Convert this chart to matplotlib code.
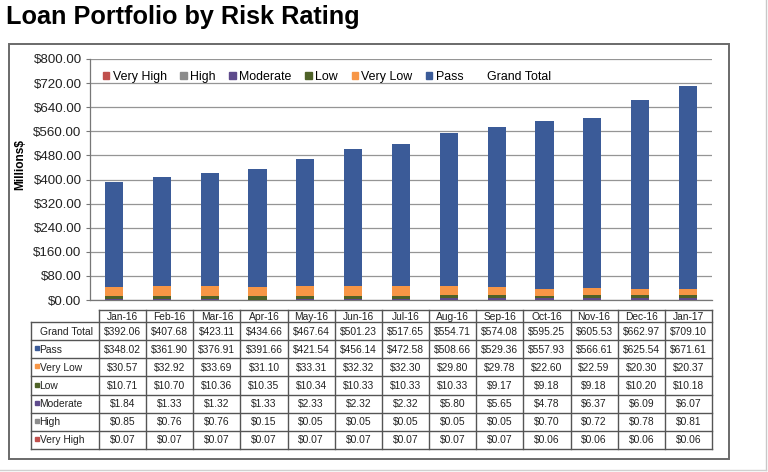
import matplotlib
matplotlib.use("Agg")
import matplotlib.pyplot as plt
from matplotlib.patches import Patch, Rectangle
import numpy as np

plt.rcParams['font.family'] = ['Liberation Sans', 'DejaVu Sans']

months = ["Jan-16", "Feb-16", "Mar-16", "Apr-16", "May-16", "Jun-16", "Jul-16",
          "Aug-16", "Sep-16", "Oct-16", "Nov-16", "Dec-16", "Jan-17"]
grand_total = [392.06, 407.68, 423.11, 434.66, 467.64, 501.23, 517.65,
               554.71, 574.08, 595.25, 605.53, 662.97, 709.10]
pass_ = [348.02, 361.90, 376.91, 391.66, 421.54, 456.14, 472.58,
         508.66, 529.36, 557.93, 566.61, 625.54, 671.61]
very_low = [30.57, 32.92, 33.69, 31.10, 33.31, 32.32, 32.30,
            29.80, 29.78, 22.60, 22.59, 20.30, 20.37]
low = [10.71, 10.70, 10.36, 10.35, 10.34, 10.33, 10.33,
       10.33, 9.17, 9.18, 9.18, 10.20, 10.18]
moderate = [1.84, 1.33, 1.32, 1.33, 2.33, 2.32, 2.32,
            5.80, 5.65, 4.78, 6.37, 6.09, 6.07]
high = [0.85, 0.76, 0.76, 0.15, 0.05, 0.05, 0.05,
        0.05, 0.05, 0.70, 0.72, 0.78, 0.81]
very_high = [0.07, 0.07, 0.07, 0.07, 0.07, 0.07, 0.07,
             0.07, 0.07, 0.06, 0.06, 0.06, 0.06]
y_ticks = [0, 80, 160, 240, 320, 400, 480, 560, 640, 720, 800]

series_names = ["Very High", "High", "Moderate", "Low", "Very Low", "Pass"]
series_vals = [very_high, high, moderate, low, very_low, pass_]
colors = ["#C0504D", "#8C8C8C", "#5E4B8C", "#4F6228", "#F79646", "#3B5B98"]

W, H = 768, 472
fig = plt.figure(figsize=(W / 100, H / 100), dpi=100)

def fx(px):
    return px / W

def fy(py):
    return 1 - py / H

# Plot axes
left, right, top, bottom = 90, 712, 59, 300
ax = fig.add_axes([fx(left), fy(bottom), fx(right - left), (bottom - top) / H])
x = np.arange(len(months))
base = np.zeros(len(months))
for name, vals, c in zip(series_names, series_vals, colors):
    ax.bar(x, vals, width=0.38, bottom=base, color=c, label=name, zorder=3)
    base += np.array(vals)

ax.set_xlim(-0.5, len(months) - 0.5)
ax.set_ylim(0, 800)
ax.set_yticks(y_ticks)
ax.set_yticklabels([f"${v:,.2f}" for v in y_ticks], fontsize=9.6, color="#222222")
ax.set_xticks([])
ax.yaxis.grid(True, color="#959595", linewidth=0.9, zorder=0)
ax.tick_params(axis='y', length=3, width=0.8, color="#777777", pad=3)
for s in ["top", "right"]:
    ax.spines[s].set_visible(False)
ax.spines["left"].set_color("#777777")
ax.spines["bottom"].set_color("#777777")
ax.spines["left"].set_linewidth(0.9)
ax.spines["bottom"].set_linewidth(0.9)
ax.set_ylabel("Millions$", fontsize=8.6, fontweight="bold")
ax.yaxis.set_label_coords((26 - left) / (right - left), (bottom - 165) / (bottom - top))

handles = [Patch(color=c) for c in colors] + [Patch(color="none")]
labels = series_names + ["Grand Total"]
ax.legend(handles, labels, loc="center left", bbox_to_anchor=(fx(103), fy(77)),
          bbox_transform=fig.transFigure, ncol=7, frameon=False, fontsize=8.9,
          handlelength=0.5, handleheight=0.5, handletextpad=0.3,
          columnspacing=1.1, borderpad=0, borderaxespad=0)

# Overlay axes for frame, title and data table
ov2 = fig.add_axes([0, 0, 1, 1], zorder=5)
ov2.set_xlim(0, W)
ov2.set_ylim(H, 0)
ov2.axis("off")
ov2.patch.set_alpha(0)

ov2.text(6, 17, "Loan Portfolio by Risk Rating", fontsize=18.2, fontweight="bold",
         ha="left", va="center", color="black")

# chart frame
ov2.add_patch(Rectangle((8.5, 44), 720, 415, fill=False, edgecolor="#6A6A6A", linewidth=1.4))
# slide border
ov2.plot([766, 766], [0, 470], color="#C8C8C8", lw=1)
ov2.plot([0, 766], [470, 470], color="#D0D0D0", lw=1)

# data table
tfs = 7.4
tab_left, lab_right, tab_right = 31, 99, 712
hdr_top, row_top, tab_bot = 310, 322, 449
nrows = 7
rh = (tab_bot - row_top) / nrows
cw = (tab_right - lab_right) / len(months)
lc = "#555555"
lw = 1.0
ov2.plot([lab_right, tab_right], [hdr_top, hdr_top], color=lc, lw=lw)
for i in range(len(months) + 1):
    xx = lab_right + i * cw
    ov2.plot([xx, xx], [hdr_top, tab_bot], color=lc, lw=lw)
ov2.plot([tab_left, tab_left], [row_top, tab_bot], color=lc, lw=lw)
for r in range(nrows + 1):
    yy = row_top + r * rh
    ov2.plot([tab_left, tab_right], [yy, yy], color=lc, lw=lw)
for i, m in enumerate(months):
    ov2.text(lab_right + (i + 0.5) * cw, (hdr_top + row_top) / 2 + 0.5, m,
             fontsize=tfs, ha="center", va="center", color="#222222")

row_names = ["Grand Total"] + series_names[::-1]
row_vals = [grand_total] + series_vals[::-1]
row_cols = [None] + colors[::-1]
for r, (nm, vals, c) in enumerate(zip(row_names, row_vals, row_cols)):
    yc = row_top + (r + 0.5) * rh + 0.5
    if c is None:
        ov2.text((tab_left + lab_right) / 2 + 2, yc, nm, fontsize=tfs, ha="center",
                 va="center", color="#222222")
    else:
        ov2.add_patch(Rectangle((34.5, yc - 3.5), 4, 4, color=c))
        ov2.text(39.5, yc, nm, fontsize=tfs, ha="left", va="center", color="#222222")
    for i, v in enumerate(vals):
        ov2.text(lab_right + (i + 0.5) * cw, yc, f"${v:,.2f}", fontsize=tfs,
                 ha="center", va="center", color="#222222")

fig.savefig("out.png", dpi=100)
